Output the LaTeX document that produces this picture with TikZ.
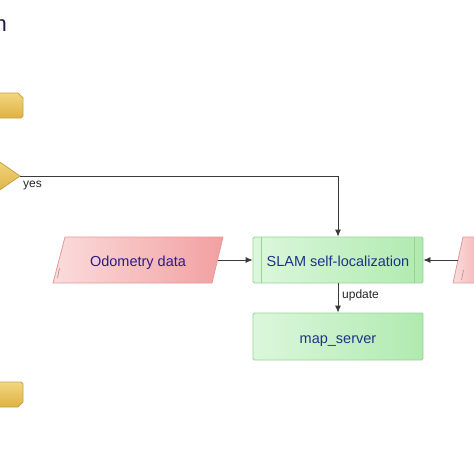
\documentclass[tikz,border=0pt]{standalone}
\usepackage{fontspec}
\setmainfont{Liberation Sans}
\usetikzlibrary{arrows.meta,calc}
\definecolor{conncol}{HTML}{3A3A3A}
\definecolor{gLight}{HTML}{DCF7DC}
\definecolor{gDark}{HTML}{B0EAB0}
\definecolor{gEdge}{HTML}{96D496}
\definecolor{rLight}{HTML}{FBDCDC}
\definecolor{rDark}{HTML}{F2A0A0}
\definecolor{rEdge}{HTML}{E39A9A}
\definecolor{yLight}{HTML}{F3D77F}
\definecolor{yDark}{HTML}{DDB143}
\definecolor{yEdge}{HTML}{C6A24C}
\definecolor{txtBlue}{HTML}{1E3488}
\definecolor{txtPurple}{HTML}{2E1A8C}
\definecolor{titleCol}{HTML}{1C1C4C}
\begin{document}
\begin{tikzpicture}[x=1pt,y=-1pt,
 conn/.style={draw=conncol,line width=0.8pt},
 arr/.style={conn,-{Latex[length=7pt,width=6pt]}},
 greenbox/.style={draw=gEdge,line width=0.8pt,left color=gLight,right color=gDark,rounded corners=1.5pt,minimum width=170pt,minimum height=46pt,inner sep=0pt,text=txtBlue,font=\fontsize{14.5}{17}\selectfont,text height=13.4pt,text depth=0pt},
 redshape/.style={draw=rEdge,line width=0.8pt,left color=rLight,right color=rDark},
 yellowshape/.style={draw=yEdge,line width=0.8pt,top color=yLight,bottom color=yDark},
 tick/.style={draw=rEdge!80!black,line width=0.5pt},
 inner/.style={draw=gEdge,line width=0.6pt},
 lbl/.style={font=\fontsize{12}{14}\selectfont,text=black!85,inner sep=0pt},
 ]
\useasboundingbox (0,0) rectangle (474,474);

% partial title
\node[anchor=base east,text=titleCol,font=\fontsize{22}{26}\selectfont,inner sep=0pt] (title) at (7,31) {n};

% yellow shapes at the left edge
\path[yellowshape] (-6,93) -- (18,93) -- (23,98) -- (23,116) -- (21,118) -- (-6,118) -- cycle;
\path[yellowshape] (-6,382) -- (21,382) -- (23,384) -- (23,402) -- (18,407) -- (-6,407) -- cycle;
\path[yellowshape] (20,176) -- (-6,158) -- (-32,176) -- (-6,194) -- cycle;
\coordinate (dec) at (20,176);

% odometry data
\path[redshape] (65,237) -- (223,237) -- (212,283) -- (53,283) -- cycle;
\draw[tick] (59.5,268) -- (57.5,278);
\node[text=txtPurple,font=\fontsize{14.5}{17}\selectfont,inner sep=0pt,text height=13.4pt,text depth=0pt] (odo) at (138,260) {Odometry data};
\coordinate (odoE) at (217.5,260);

% right parallelogram (cut)
\path[redshape] (463,237) -- (495,237) -- (485,283) -- (453,283) -- cycle;
\draw[tick] (463.5,270) -- (461.5,280);
\coordinate (rightW) at (458,260);

% SLAM
\node[greenbox] (slam) at (338,260) {SLAM self-localization};
\draw[inner] ($(slam.north west)+(9,0)$) -- ($(slam.south west)+(9,0)$);
\draw[inner] ($(slam.north east)+(-9,0)$) -- ($(slam.south east)+(-9,0)$);

% map_server
\node[greenbox,minimum height=47pt] (map) at (338,336.5) {map\_server};

% connectors
\draw[arr] (dec) -| (slam.north);
\node[lbl,anchor=west] (yes) at (23,185.5) {yes};
\draw[arr] (odoE) -- (slam.west);
\draw[arr] (rightW) -- (slam.east);
\draw[arr] (slam.south) -- (map.north);
\node[lbl,anchor=west] (upd) at (342,295) {update};
\end{tikzpicture}
\end{document}
